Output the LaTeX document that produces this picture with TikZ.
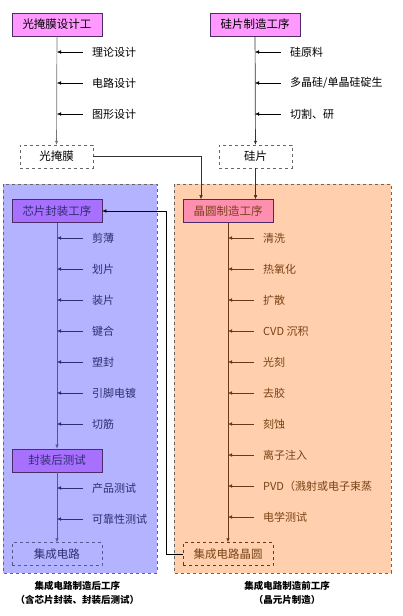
\documentclass[tikz,border=0pt]{standalone}
\usepackage{fontspec}
\setmainfont{Noto Sans CJK SC}
\usepackage{xcolor}
\usepackage{tikz}
\usetikzlibrary{arrows.meta, positioning}

\definecolor{maskfill}{HTML}{FF99FF}
\definecolor{pkgfill}{HTML}{A870FF}
\definecolor{waferfill}{HTML}{FF8FB0}
\definecolor{leftbg}{HTML}{B3B3FF}
\definecolor{rightbg}{HTML}{FFCFAE}
\definecolor{boxline}{HTML}{4A2C66}
\definecolor{navy}{HTML}{2E2E70}
\definecolor{navyline}{HTML}{555590}
\definecolor{brown}{HTML}{7A4316}
\definecolor{brownline}{HTML}{6B3A14}

\begin{document}
\begin{tikzpicture}[x=1pt, y=-1pt, font=\fontsize{11}{13}\selectfont,
    mainbox/.style={draw=boxline, line width=0.8pt, minimum width=90pt, minimum height=23pt, inner sep=0pt, font=\fontsize{11.5}{13}\selectfont},
    outbox/.style={draw=#1, dashed, minimum width=73pt, minimum height=23pt, inner sep=0pt, font=\fontsize{11.5}{13}\selectfont},
    region/.style={draw=gray!80!black, dashed, line width=0.6pt},
    steptxt/.style={anchor=west, inner sep=0pt},
    arr/.style={-{Latex[length=4pt,width=3.5pt]}},
    caption/.style={align=center, font=\fontsize{9.5}{14}\selectfont\bfseries}]

    \useasboundingbox (0,0) rectangle (402,616);

    % Bereiche
    \fill[leftbg] (3,184) rectangle (157,573);
    \draw[region] (3,184) rectangle (157,573);
    \fill[rightbg] (174,184) rectangle (391,573);
    \draw[region] (174,184) rectangle (391,573);

    % Kopf
    \node[mainbox, fill=maskfill] (mask) at (57,24.5) {光掩膜设计工};
    \node[mainbox, fill=maskfill] (si) at (255,24.5) {硅片制造工序};
    \node[outbox=gray!80!black] (maskout) at (56.5,156.5) {光掩膜};
    \node[outbox=gray!80!black] (siout) at (255.5,156.5) {硅片};

    \draw[arr, gray!90!black, line width=0.7pt] (mask) -- (maskout);
    \draw[arr, black!80, line width=0.7pt] (si) -- (siout);

    \foreach \t [count=\i] in {理论设计, 电路设计, 图形设计}
        \node[steptxt] (m\i) at (92,21+31*\i) {\t};
    \foreach \i in {1,...,3}
        \draw[arr, black] ([xshift=-9pt]m\i.west) -- (m\i.west -| mask.south);

    \foreach \t [count=\i] in {硅原料, 多晶硅/单晶硅碇生, 切割、研}
        \node[steptxt] (s\i) at (290,21+31*\i) {\t};
    \foreach \i in {1,...,3}
        \draw[arr, black] ([xshift=-9pt]s\i.west) -- (s\i.west -| si.south);

    % Vorderer Teil
    \node[mainbox, fill=waferfill, text=brown] (wafer) at (228,211) {晶圆制造工序};
    \node[outbox=brownline, minimum width=90pt, text=brown] (icwafer) at (228,554) {集成电路晶圆};
    \draw[arr, brownline, line width=0.7pt] (wafer) -- (icwafer);

    \foreach \t [count=\i] in {清洗, 热氧化, 扩散, CVD 沉积, 光刻, 去胶, 刻蚀, 离子注入, PVD（溅射或电子束蒸, 电学测试}
        \node[steptxt, text=brown] (w\i) at (263,207+31*\i) {\t};
    \foreach \i in {1,...,10}
        \draw[arr, brownline] ([xshift=-9pt]w\i.west) -- (w\i.west -| wafer.south);

    \draw[arr, black!80] (maskout.east) -| ([xshift=-27pt]wafer.north);
    \draw[arr, black!80] (siout.south) -- (siout.south |- wafer.north);

    % Hinterer Teil
    \node[mainbox, fill=pkgfill, text=navy] (pkg) at (57,211) {芯片封装工序};
    \node[mainbox, fill=pkgfill, text=navy] (test) at (57,460.5) {封装后测试};
    \node[outbox=navyline, minimum width=90pt, text=navy] (ic) at (57,554) {集成电路};
    \draw[arr, navyline, line width=0.7pt] (pkg) -- (test);
    \draw[arr, navyline, line width=0.7pt] (test) -- (ic);

    \foreach \t [count=\i] in {剪薄, 划片, 装片, 键合, 塑封, 引脚电镀, 切筋}
        \node[steptxt, text=navy] (p\i) at (92,207+31*\i) {\t};
    \foreach \i in {1,...,7}
        \draw[arr, navy] ([xshift=-9pt]p\i.west) -- (p\i.west -| pkg.south);

    \foreach \t [count=\i] in {产品测试, 可靠性测试}
        \node[steptxt, text=navy] (q\i) at (92,457+31*\i) {\t};
    \foreach \i in {1,2}
        \draw[arr, navy] ([xshift=-9pt]q\i.west) -- (q\i.west -| test.south);

    % Rueckfuehrung
    \draw[arr, black] (icwafer.west) -- ++(-17,0) |- (pkg.east);

    % Unterschriften
    \node[caption] (capl) at (77.5,593) {集成电路制造后工序\\（含芯片封装、封装后测试）};
    \node[caption] (capr) at (287,593) {集成电路制造前工序\\（晶元片制造）};
\end{tikzpicture}
\end{document}
